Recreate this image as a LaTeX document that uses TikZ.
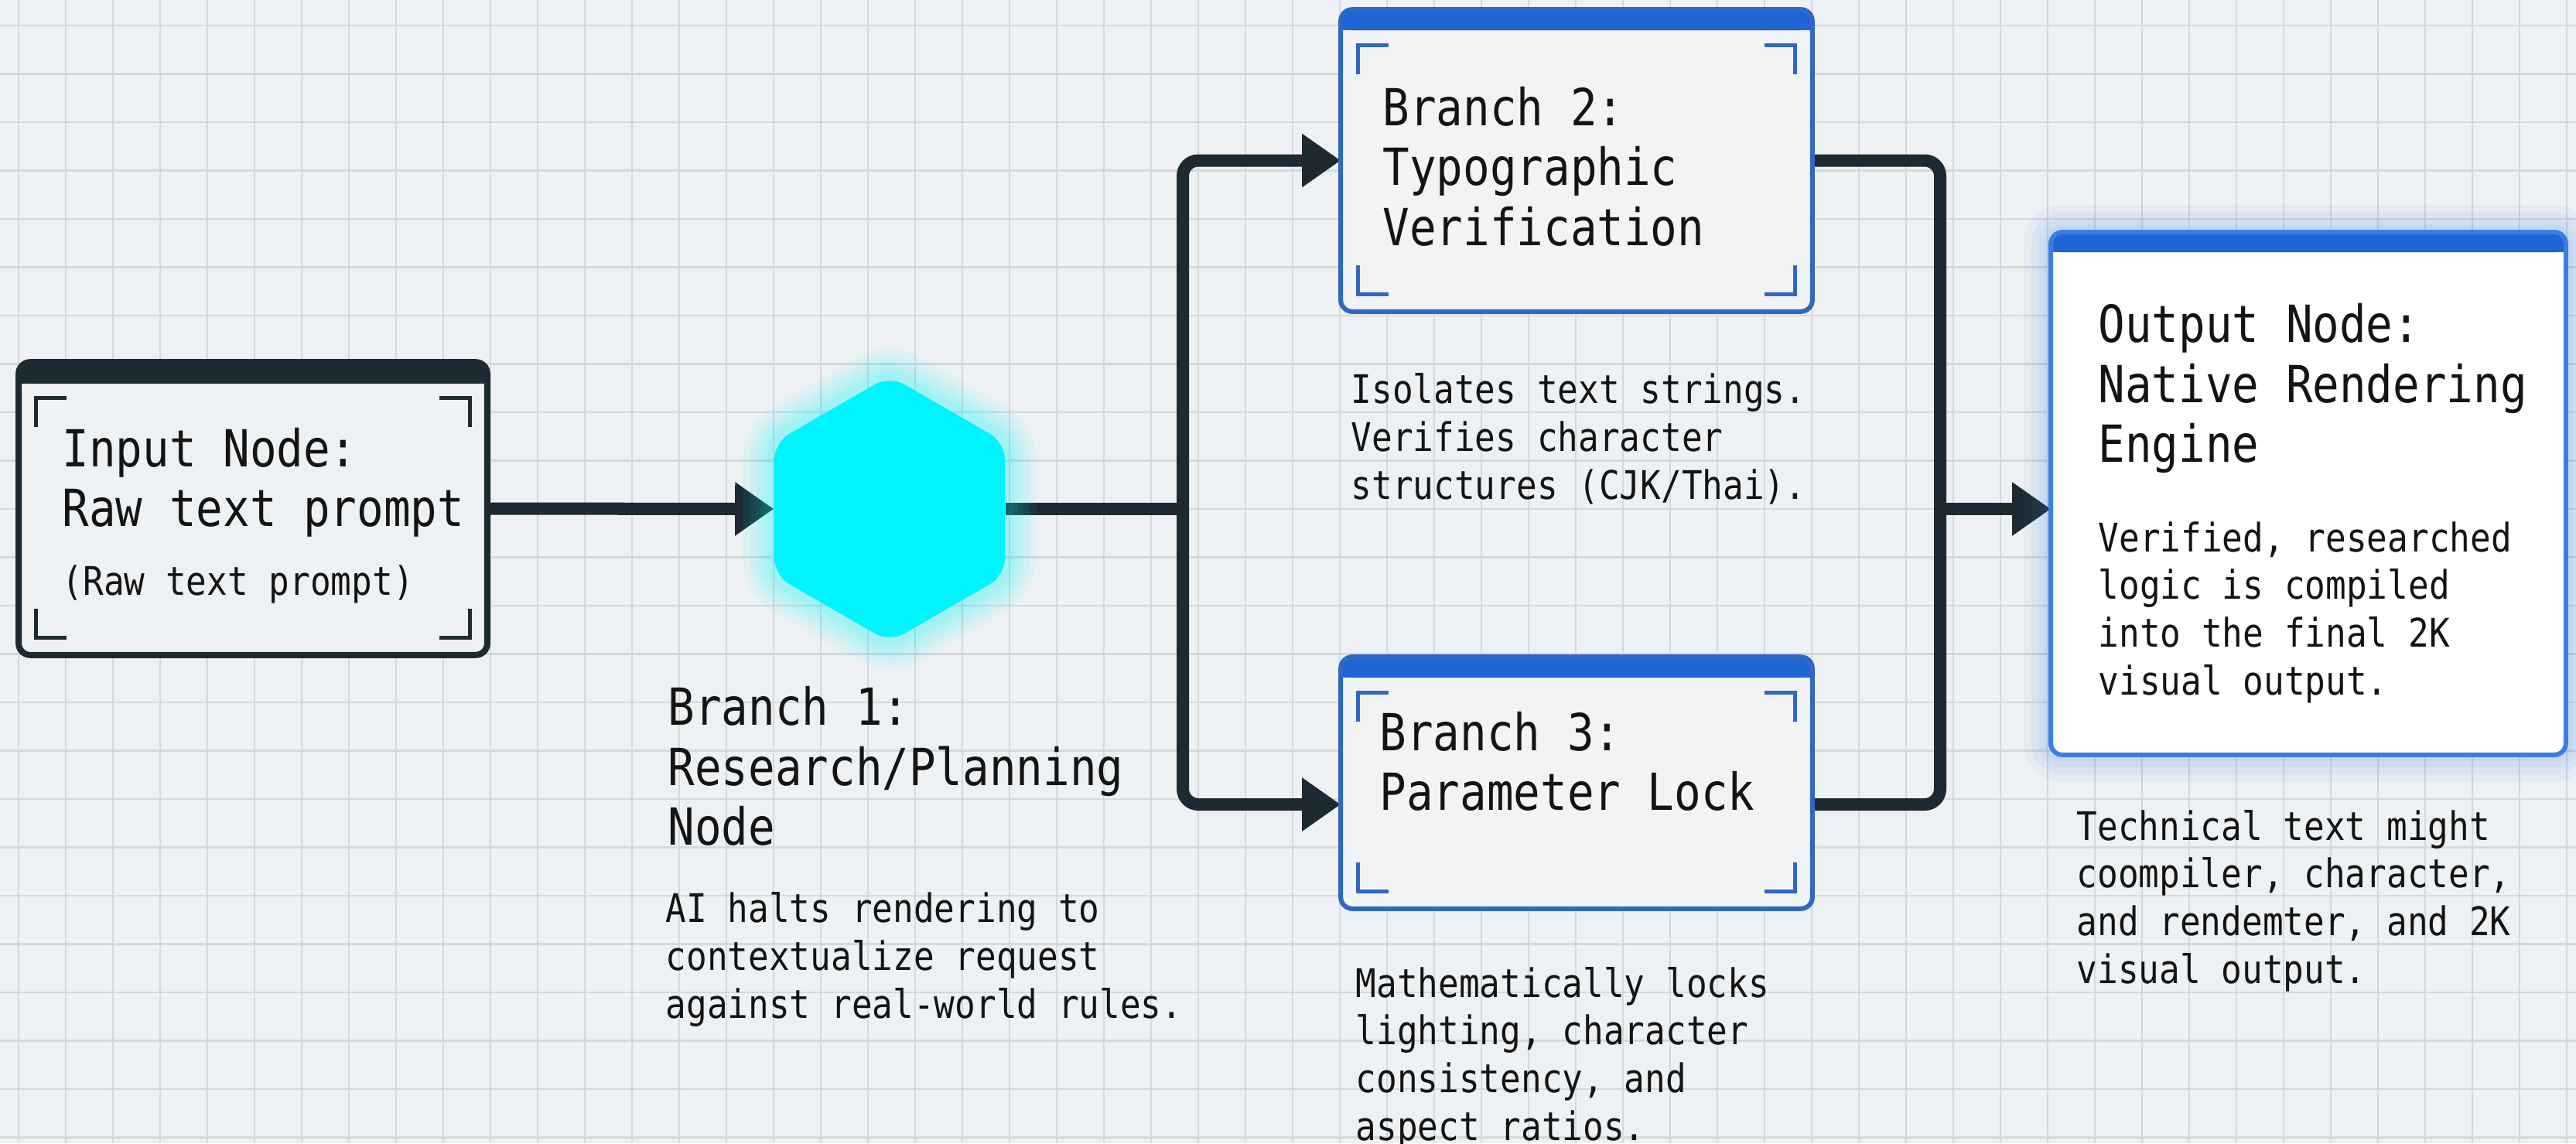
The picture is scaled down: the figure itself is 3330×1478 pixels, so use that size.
\documentclass[tikz,border=0pt]{standalone}
\usepackage{fontspec}
\setmonofont[FakeStretch=0.87]{DejaVu Sans Mono}
\usepackage{tikz}
\usetikzlibrary{arrows.meta,shapes.geometric}

\definecolor{paper}{HTML}{EEF1F3}
\definecolor{gridc}{HTML}{D3D9DD}
\definecolor{ink}{HTML}{1E2A31}
\definecolor{boxblue}{HTML}{2F68C4}
\definecolor{headblue}{HTML}{1F66D4}
\definecolor{outblue}{HTML}{3A7EE4}
\definecolor{hexcyan}{HTML}{00F4FD}
\definecolor{boxfill}{HTML}{F1F3F5}

\tikzset{
  gridline/.style={gridc, line width=0.025cm},
  panel/.style={rectangle, rounded corners=0.15cm, inner sep=0pt},
  % multi-line texts are placed by the baseline of their last line
  title/.style={anchor=base west, align=left, inner sep=0pt, text=black!92,
    font=\ttfamily\fontsize{18.8}{21.9}\selectfont},
  desc/.style={anchor=base west, align=left, inner sep=0pt, text=black!92,
    font=\ttfamily\fontsize{14.5}{17.5}\selectfont},
  wire/.style={ink, line width=0.16cm, rounded corners=0.2cm},
  flow/.style={wire, -{Triangle[length=0.5cm,width=0.66cm]}},
  hexa/.style={regular polygon, regular polygon sides=6, shape border rotate=30,
    minimum size=3.44cm, inner sep=0pt, fill=hexcyan, rounded corners=0.22cm},
}

% header band of a panel: node, colour, height
\newcommand{\panelhead}[3]{%
  \fill[#2, rounded corners=0.15cm] (#1.north west) rectangle ([yshift=-#3]#1.north east);
  \fill[#2] ([yshift=-0.15cm]#1.north west) rectangle ([yshift=-#3]#1.north east);
}
% four corner marks inside a panel: node, colour
\newcommand{\panelmarks}[2]{%
  \draw[#2, line width=0.05cm] ([xshift=0.22cm,yshift=-0.84cm]#1.north west) -- ++(0,-38) -- ++(40,0);
  \draw[#2, line width=0.05cm] ([xshift=-0.22cm,yshift=-0.84cm]#1.north east) -- ++(0,-38) -- ++(-40,0);
  \draw[#2, line width=0.05cm] ([xshift=0.22cm,yshift=0.6cm]#1.south west) -- ++(0,38) -- ++(40,0);
  \draw[#2, line width=0.05cm] ([xshift=-0.22cm,yshift=0.6cm]#1.south east) -- ++(0,38) -- ++(-40,0);
}

\begin{document}
\begin{tikzpicture}[x=0.01cm,y=-0.01cm]
\useasboundingbox (0,0) rectangle (3330,1478);
\fill[paper] (0,0) rectangle (3330,1478);
\foreach \gx in {0,...,54}
  \draw[gridline] ({24+61*\gx},0) -- ({24+61*\gx},1478);
\foreach \gy in {0,...,23}
  \draw[gridline] (0,{33+62.5*\gy}) -- (3330,{33+62.5*\gy});

% panels
\node (in) [panel, fill=paper, minimum width=6.04cm, minimum height=3.77cm] at (327,657.5) {};
\node (b2) [panel, fill=boxfill, minimum width=6.08cm, minimum height=3.89cm] at (2038,207.5) {};
\node (b3) [panel, fill=boxfill, minimum width=6.08cm, minimum height=3.24cm] at (2038,1012) {};
\node (out) [panel, minimum width=6.64cm, minimum height=6.74cm] at (2984,638) {};
\node (hex) [hexa] at (1150,658) {};
\coordinate (j1) at (1529,658);
\coordinate (j2) at (2508,658);

% connectors
\draw[flow] (in.east) -- (hex.west);
\draw[wire] (hex.east) -- (j1);
\draw[flow] (j1) |- (b2.west);
\draw[flow] (j1) |- ([yshift=-0.28cm]b3.west);
\draw[wire] (b2.east) -| (j2);
\draw[wire] ([yshift=-0.28cm]b3.east) -| (j2);
\draw[flow] (j2) -- (j2 -| out.west);

% glow
\foreach \w in {0.8,0.62,0.46,0.32,0.2}
  \draw[hexcyan, line width=\w cm, opacity=0.07, line join=round, rounded corners=0.22cm]
    (hex.corner 1) -- (hex.corner 2) -- (hex.corner 3) -- (hex.corner 4)
    -- (hex.corner 5) -- (hex.corner 6) -- cycle;
\foreach \w in {0.7,0.5,0.32,0.18}
  \draw[outblue, line width=\w cm, opacity=0.06, rounded corners=0.15cm]
    (out.north west) rectangle (out.south east);
\fill[white, rounded corners=0.15cm] (out.north west) rectangle (out.south east);

% panel heads, borders and marks
\panelhead{in}{ink}{0.28cm}
\draw[ink, line width=0.08cm, rounded corners=0.15cm] (in.north west) rectangle (in.south east);
\panelmarks{in}{ink}
\panelhead{b2}{headblue}{0.27cm}
\draw[boxblue, line width=0.06cm, rounded corners=0.15cm] (b2.north west) rectangle (b2.south east);
\panelmarks{b2}{boxblue}
\panelhead{b3}{headblue}{0.27cm}
\draw[boxblue, line width=0.06cm, rounded corners=0.15cm] (b3.north west) rectangle (b3.south east);
\panelmarks{b3}{boxblue}
\panelhead{out}{headblue}{0.26cm}
\draw[outblue, line width=0.06cm, rounded corners=0.15cm] (out.north west) rectangle (out.south east);

% texts
\node (intitle) [title] at (80,680) {Input Node:\\Raw text prompt};
\node (innote) [desc] at (80,769) {(Raw text prompt)};
\node (b1title) [title] at (863,1092) {Branch 1:\\Research/Planning\\Node};
\node (b1text) [desc] at (860,1316) {AI halts rendering to\\contextualize request\\against real-world rules.};
\node (b2title) [title] at (1787,317) {Branch 2:\\Typographic\\Verification};
\node (b2text) [desc] at (1746,645) {Isolates text strings.\\Verifies character\\structures (CJK/Thai).};
\node (b3title) [title] at (1783,1047) {Branch 3:\\Parameter Lock};
\node (b3text) [desc] at (1752,1474) {Mathematically locks\\lighting, character\\consistency, and\\aspect ratios.};
\node (outtitle) [title] at (2712,597) {Output Node:\\Native Rendering\\Engine};
\node (outtext) [desc] at (2712,898) {Verified, researched\\logic is compiled\\into the final 2K\\visual output.};
\node (note) [desc] at (2684,1271) {Technical text might\\coompiler, character,\\and rendemter, and 2K\\visual output.};
\end{tikzpicture}
\end{document}
